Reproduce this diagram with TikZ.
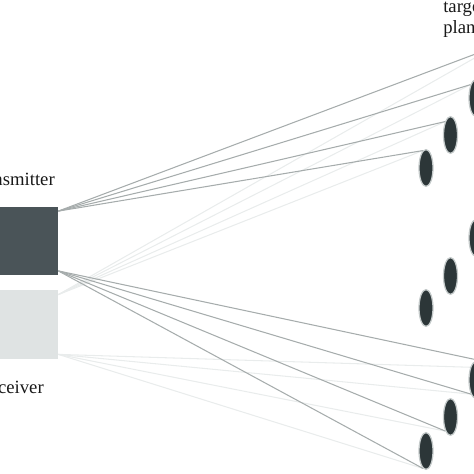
\documentclass[tikz,border=0pt]{standalone}
\usepackage{fontspec}
\setmainfont{Liberation Serif}
\usetikzlibrary{shapes.geometric, backgrounds}
\definecolor{txdark}{HTML}{4A5458}
\definecolor{rxlight}{HTML}{DFE3E3}
\definecolor{spotdark}{HTML}{2C3638}
\definecolor{spotrim}{HTML}{C4CACA}
\definecolor{raydark}{HTML}{A6ACAC}
\definecolor{raylight}{HTML}{E9ECEC}
\tikzset{
  % scatola del trasmettitore e del ricevitore
  unit/.style={minimum width=1.95cm, minimum height=1.7cm, inner sep=0pt},
  % punto sul piano bersaglio
  spot/.style={ellipse, draw=spotrim, line width=0.9pt, fill=spotdark,
    minimum width=0.35cm, minimum height=0.92cm, inner sep=0pt},
  % raggi
  txray/.style={line width=0.75pt, raydark},
  rxray/.style={line width=0.75pt, raylight},
  lbl/.style={font=\fontsize{13.3}{14.6}\selectfont, text=black!90, inner sep=0pt},
}
\begin{document}
\begin{tikzpicture}[x=0.025cm, y=-0.025cm]
  \useasboundingbox (0,0) rectangle (474,474);
  \clip (0,0) rectangle (474,474);
  % trasmettitore e ricevitore
  \node[unit, fill=txdark] (tx) at (19,241) {};
  \node[unit, fill=rxlight] (rx) at (19,324.5) {};
  \node[lbl, anchor=base east] (txlbl) at (55,185) {transmitter};
  \node[lbl, anchor=base east] (rxlbl) at (44,393) {receiver};
  \node[lbl, anchor=base west, align=left] (planelbl) at (443,33) {target\\plane};
  % uscite dei raggi
  \coordinate (txa) at ([yshift=-0.11cm]tx.north east);
  \coordinate (txb) at ([yshift=0.11cm]tx.south east);
  \coordinate (rxa) at ([yshift=-0.11cm]rx.north east);
  \coordinate (rxb) at ([yshift=0.11cm]rx.south east);
  % punti sul piano
  \foreach \nm/\px/\py in {a1/426/168, a2/450.5/135, a3/476/98,
    b1/426/308, b2/450.5/276, b3/476/238,
    c1/426/451, c2/450.5/417, c3/476/380}
    \node[spot] (\nm) at (\px,\py) {};
  % colonna fuori quadro
  \coordinate (offa) at (494,47);
  \coordinate (offb) at (494,363.5);
  \coordinate (offc) at (494,368);
  % raggi sotto i punti
  \begin{pgfonlayer}{background}
    \clip (0,0) rectangle (474,474);
    \foreach \en in {offa, a3.112, a2.112, a1.100} \draw[rxray] (rxa) -- (\en);
    \foreach \en in {offc, c3.250, c2.250, c1.260} \draw[rxray] (rxb) -- (\en);
    \foreach \en in {offa, a3.112, a2.112, a1.100} \draw[txray] (txa) -- (\en);
    \foreach \en in {offb, c3.250, c2.250, c1.260} \draw[txray] (txb) -- (\en);
  \end{pgfonlayer}
\end{tikzpicture}
\end{document}
